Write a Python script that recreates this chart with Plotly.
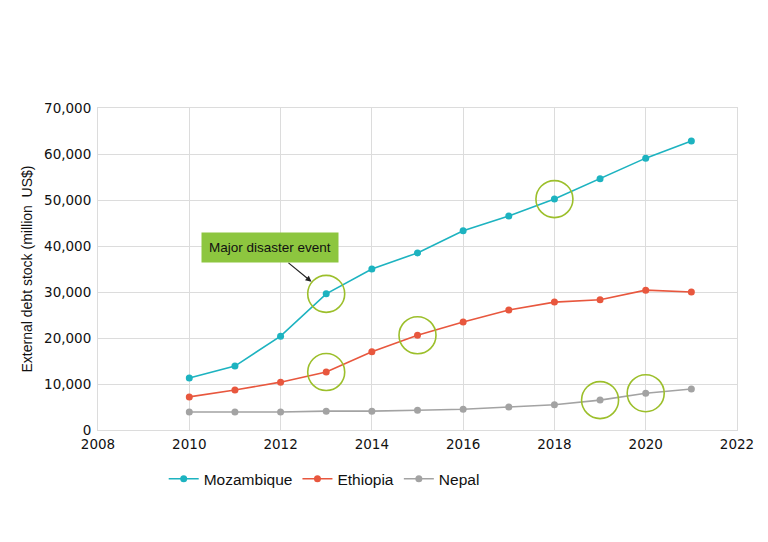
import plotly.graph_objects as go

years = list(range(2010, 2022))
mozambique = [11300, 13900, 20400, 29600, 35000, 38500, 43300, 46500, 50200, 54600, 59100, 62800]
ethiopia = [7200, 8700, 10400, 12600, 17000, 20600, 23500, 26100, 27800, 28300, 30400, 30000]
nepal = [3900, 3900, 3900, 4100, 4100, 4300, 4500, 5000, 5500, 6500, 8000, 8900]

# disaster events highlighted (year, series)
events = [(2013, "Mozambique"), (2018, "Mozambique"), (2013, "Ethiopia"), (2015, "Ethiopia"), (2019, "Nepal"), (2020, "Nepal")]

series = {"Mozambique": mozambique, "Ethiopia": ethiopia, "Nepal": nepal}
colors = {"Mozambique": "#1db3c0", "Ethiopia": "#e8573e", "Nepal": "#a3a3a3"}

font = "Liberation Sans, Arial, sans-serif"
tickfont = "DejaVu Sans, sans-serif"

fig = go.Figure()
for name, vals in series.items():
    fig.add_trace(go.Scatter(x=years, y=vals, name=name, mode="lines+markers",
                             line=dict(color=colors[name], width=1.6),
                             marker=dict(color=colors[name], size=7)))

ex = [e[0] for e in events]
ey = [series[e[1]][years.index(e[0])] for e in events]
fig.add_trace(go.Scatter(x=ex, y=ey, mode="markers", showlegend=False, hoverinfo="skip",
                         marker=dict(symbol="circle-open", size=37, color="#9cbf2b",
                                     line=dict(width=1.6, color="#9cbf2b"))))

fig.add_annotation(x=2013, y=mozambique[3], text="Major disaster event",
                   showarrow=True, arrowhead=2, arrowsize=1, arrowwidth=1.2, arrowcolor="#222",
                   ax=-56, ay=-46, standoff=19, bgcolor="#8dc63f", borderpad=7,
                   font=dict(family=font, size=13.5, color="#111"))

fig.update_layout(
    width=768, height=542,
    margin=dict(l=98, r=31, t=108, b=112),
    paper_bgcolor="white", plot_bgcolor="white",
    font=dict(family=font, size=15, color="#111"),
    showlegend=True,
    legend=dict(orientation="h", x=0.354, xanchor="center", y=-0.10, yanchor="top",
                itemwidth=30,
                font=dict(family=font, size=15.5, color="#111")),
    xaxis=dict(range=[2008, 2022], dtick=2, tick0=2008, showgrid=True, gridcolor="#dcdcdc",
               gridwidth=1, zeroline=False, showline=True, linecolor="#dcdcdc", mirror=True,
               ticks="", ticklabelstandoff=2, tickfont=dict(family=tickfont, size=13.5)),
    yaxis=dict(range=[0, 70000], dtick=10000, tickformat=",", showgrid=True, gridcolor="#dcdcdc",
               zeroline=False, showline=True, linecolor="#dcdcdc", mirror=True, ticks="",
               ticklabelstandoff=3,
               tickfont=dict(family=tickfont, size=13.5),
               title=dict(text="External debt stock (million  US$)", font=dict(size=14), standoff=8)),
)

fig.write_html("out.html")
